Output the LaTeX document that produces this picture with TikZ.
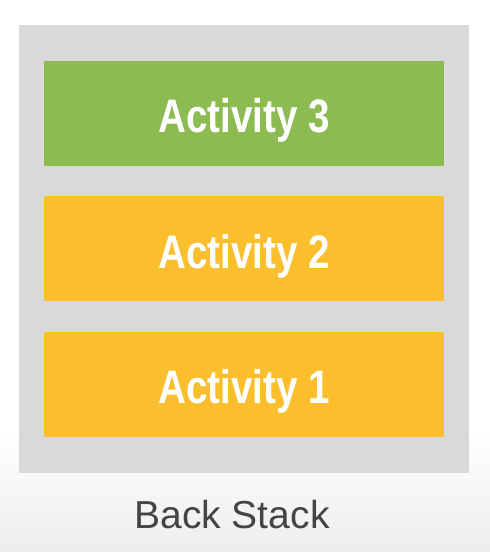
\documentclass[tikz,border=0pt]{standalone}
\usepackage{fontspec}
\setmainfont{Liberation Sans}
\newfontfamily\actfont[FakeStretch=0.82]{Liberation Sans}
\usepackage{tikz}
\usetikzlibrary{positioning}
\definecolor{stackgray}{HTML}{D9D9D9}
\definecolor{actgreen}{HTML}{8CBC51}
\definecolor{actamber}{HTML}{FBBF2D}
\definecolor{labelgray}{HTML}{444444}
\tikzset{
actbox/.style={
  rectangle,
  minimum width=400pt,
  minimum height=105pt,
  inner sep=0pt,
  text height=39pt,
  text depth=0pt,
  text=white,
  font=\actfont\bfseries\fontsize{47}{50}\selectfont
}
}

\begin{document}
\begin{tikzpicture}[x=1pt,y=1pt]
  \useasboundingbox (0,0) rectangle (490,552);
  \fill[white] (0,0) rectangle (490,552);
  \shade[top color=white,bottom color=black!7] (0,0) rectangle (490,120);
  \node[rectangle,fill=stackgray,minimum width=450pt,minimum height=448pt,inner sep=0pt] (stack) at (244,303) {};
  \node[actbox,fill=actgreen] (act3) at (244,438.5) {Activity 3};
  \node[actbox,fill=actamber,below=30pt of act3] (act2) {Activity 2};
  \node[actbox,fill=actamber,below=30pt of act2] (act1) {Activity 1};
  \node[below=24pt of stack,xshift=-12pt,text=labelgray,font=\fontsize{39}{41}\selectfont] (label) {Back Stack};
\end{tikzpicture}
\end{document}
